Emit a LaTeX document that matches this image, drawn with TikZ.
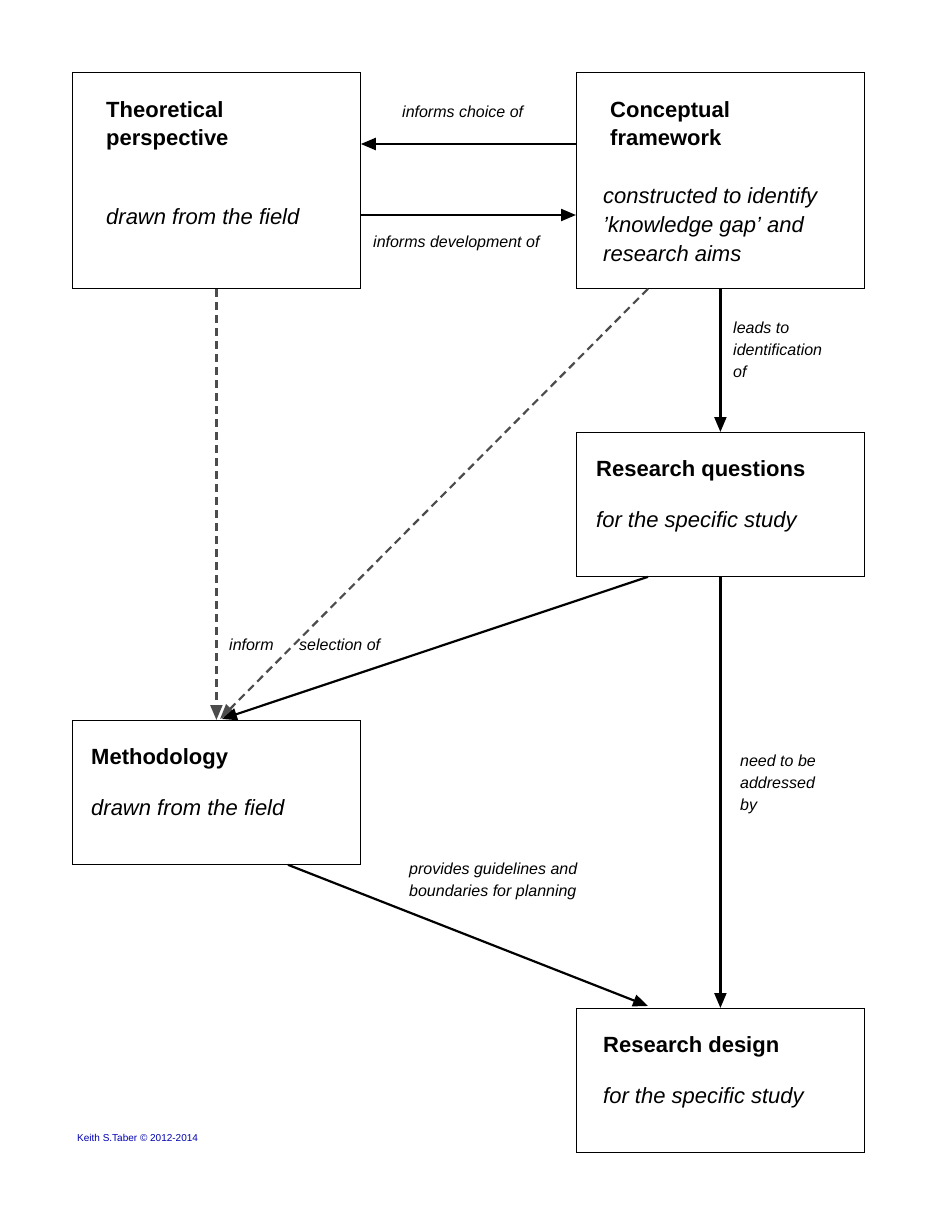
\documentclass[tikz,border=0pt]{standalone}
\usepackage{fontspec}
\setmainfont{Liberation Sans}
\usetikzlibrary{arrows.meta}
\begin{document}
\begin{tikzpicture}[x=1pt,y=-1pt,
 box/.style={draw,line width=0.8pt},
 t/.style={anchor=base west,inner sep=0,font=\fontsize{22}{26}\selectfont\bfseries},
 s/.style={anchor=base west,inner sep=0,font=\fontsize{22}{26}\selectfont\itshape},
 l/.style={anchor=base west,inner sep=0,font=\fontsize{16}{22}\selectfont\itshape},
 ar/.style={line width=2.2pt,-{Triangle[length=15pt,width=12pt]}},
 da/.style={ar,gray!60!black,dash pattern=on 8pt off 5pt}]
\useasboundingbox (0,0) rectangle (936,1224);
\node[box,minimum width=288,minimum height=216,anchor=north west] (tp) at (72,72) {};
\node[box,minimum width=288,minimum height=216,anchor=north west] (cf) at (576,72) {};
\node[box,minimum width=288,minimum height=144,anchor=north west] (rq) at (576,432) {};
\node[box,minimum width=288,minimum height=144,anchor=north west] (me) at (72,720) {};
\node[box,minimum width=288,minimum height=144,anchor=north west] (rd) at (576,1008) {};
\node[t] at (106,117) {Theoretical};
\node[t] at (106,145) {perspective};
\node[s] at (106,224) {drawn from the field};
\node[t] at (610,117) {Conceptual};
\node[t] at (610,145) {framework};
\node[s] at (603,203) {constructed to identify};
\node[s] at (603,232) {'knowledge gap' and};
\node[s] at (603,261) {research aims};
\node[t] at (596,476) {Research questions};
\node[s] at (596,527) {for the specific study};
\node[t] at (91,764) {Methodology};
\node[s] at (91,815) {drawn from the field};
\node[t] at (603,1052) {Research design};
\node[s] at (603,1103) {for the specific study};
\node[l] at (402,117) {informs choice of};
\node[l] at (373,247) {informs development of};
\node[l] at (733,333) {leads to};
\node[l] at (733,355) {identification};
\node[l] at (733,377) {of};
\node[l] at (229,650) {inform};
\node[l] at (299,650) {selection of};
\node[l] at (740,766) {need to be};
\node[l] at (740,788) {addressed};
\node[l] at (740,810) {by};
\node[l] at (409,874) {provides guidelines and};
\node[l] at (409,896) {boundaries for planning};
\node[anchor=base west,inner sep=0,text=blue!70!black,font=\fontsize{10}{12}\selectfont] (cr) at (77,1141) {Keith S.Taber © 2012-2014};
\draw[ar] (cf.west|-0,144) -- (tp.east|-0,144);
\draw[ar] (tp.east|-0,215) -- (cf.west|-0,215);
\draw[ar] (cf.south) -- (rq.north);
\draw[da] (tp.south) -- (me.north);
\draw[da] (cf.south west)++(72,0) -- (220,719);
\draw[ar] (rq.south west)++(72,0) -- (222,719);
\draw[ar] (rq.south) -- (rd.north);
\draw[ar] (me.south west)++(216,0) -- (648,1006);
\end{tikzpicture}
\end{document}
